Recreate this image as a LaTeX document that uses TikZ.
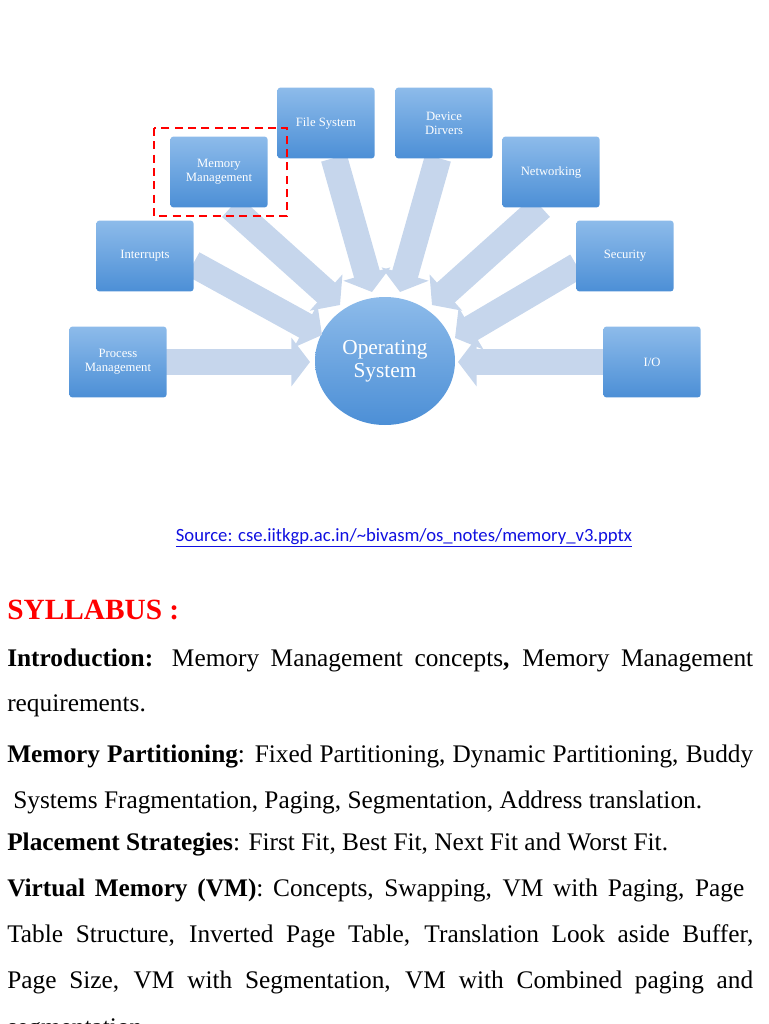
\documentclass[tikz,border=0pt]{standalone}
\usepackage{fontspec}
\setmainfont{Liberation Serif}
\newfontfamily\srcfont{Carlito}
\usetikzlibrary{arrows.meta,shapes.geometric}
\definecolor{boxtop}{HTML}{8DBBEA}
\definecolor{boxbot}{HTML}{4C8FD6}
\definecolor{arr}{HTML}{C6D6EC}
\definecolor{srcblue}{HTML}{1010E0}
\tikzset{
 obox/.style={rectangle, rounded corners=2pt, minimum width=72.75pt, minimum height=53pt, top color=boxtop, bottom color=boxbot, draw=none, text=white, font=\fontsize{9.5}{10.5}\selectfont, align=center},
 fat/.style={arr, line width=20pt, -{Triangle[length=14pt,width=36pt]}},
 bodyline/.style={anchor=west, inner sep=0pt, font=\fontsize{19}{22}\selectfont},
}
\newcommand{\jline}[2]{\makebox[#1][s]{#2}}
\begin{document}
\begin{tikzpicture}[x=0.75pt,y=-0.75pt]
\useasboundingbox (0,0) rectangle (768,1024);
\clip (0,0) rectangle (768,1024);
\node[ellipse, minimum width=105pt, minimum height=96pt, top color=boxtop, bottom color=boxbot, text=white, font=\fontsize{16}{17}\selectfont, align=center] (os) at (385,361) {Operating\\System};
\coordinate (fs) at (326,123);
\coordinate (dd) at (444,123);
\coordinate (mm) at (219,172);
\coordinate (nw) at (551,172);
\coordinate (ir) at (145,256);
\coordinate (se) at (625,256);
\coordinate (pm) at (118,362);
\coordinate (io) at (652,362);
\coordinate (tpm) at (310,362);
\coordinate (tio) at (458,362);
\coordinate (tir) at (322,335);
\coordinate (tmm) at (340,305);
\coordinate (tfs) at (372,292);
\coordinate (tdd) at (400,292);
\coordinate (tnw) at (432,305);
\coordinate (tse) at (455,338);
\draw[fat] (pm) ++(48,0) -- (tpm);
\draw[fat] (io) ++(-48,0) -- (tio);
\draw[fat] (ir) ++(48,8) -- (tir);
\draw[fat] (mm) ++(12,35) -- (tmm);
\draw[fat] (fs) ++(8,35) -- (tfs);
\draw[fat] (dd) ++(-6,35) -- (tdd);
\draw[fat] (nw) ++(-10,35) -- (tnw);
\draw[fat] (se) ++(-48,10) -- (tse);
\node[obox] (b1) at (mm) {Memory\\Management};
\node[obox] (b2) at (fs) {File System};
\node[obox] (b3) at (ir) {Interrupts};
\node[obox] (b4) at (pm) {Process\\Management};
\node[obox] (b5) at (se) {Security};
\node[obox] (b6) at (nw) {Networking};
\node[obox] (b7) at (dd) {Device\\Dirvers};
\node[obox] (b8) at (io) {I/O};
\draw[red, line width=1.6pt, dash pattern=on 6pt off 4pt] (154,128) rectangle (287,216);
\node[font=\srcfont\fontsize{14}{16}\selectfont, text=srcblue] (src) at (404,538) {\underline{Source: cse.iitkgp.ac.in/\textasciitilde bivasm/os\_notes/memory\_v3.pptx}};
\node[bodyline, font=\fontsize{22}{24}\selectfont\bfseries, text=red] (syl) at (7,610) {SYLLABUS :};
\node[bodyline] (l1) at (7,660) {\jline{559.5pt}{\textbf{Introduction:} Memory Management concepts\textbf{,} Memory Management}};
\node[bodyline] (l2) at (7,706) {requirements.};
\node[bodyline] (l3) at (7,756) {\jline{559.5pt}{\textbf{Memory Partitioning}: Fixed Partitioning, Dynamic Partitioning, Buddy}};
\node[bodyline] (l4) at (13,802) {Systems Fragmentation, Paging, Segmentation, Address translation.};
\node[bodyline] (l5) at (7,844) {\textbf{Placement Strategies}: First Fit, Best Fit, Next Fit and Worst Fit.};
\node[bodyline] (l6) at (7,890) {\jline{552.75pt}{\textbf{Virtual Memory (VM)}: Concepts, Swapping, VM with Paging, Page}};
\node[bodyline] (l7) at (7,936) {\jline{559.5pt}{Table Structure, Inverted Page Table, Translation Look aside Buffer,}};
\node[bodyline] (l8) at (7,982) {\jline{559.5pt}{Page Size, VM with Segmentation, VM with Combined paging and}};
\node[bodyline] (l9) at (7,1030) {segmentation};
\end{tikzpicture}
\end{document}
